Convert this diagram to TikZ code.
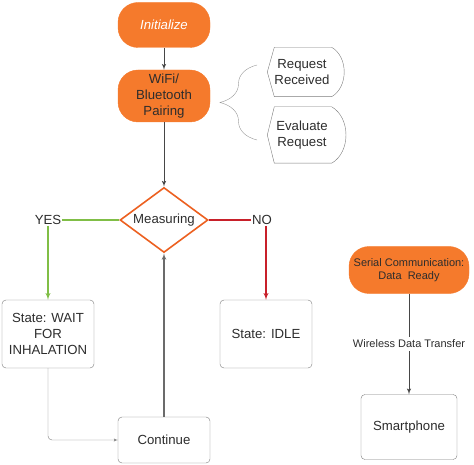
\documentclass[tikz,border=0pt]{standalone}
\usepackage{fontspec}
\setmainfont{Liberation Sans}
\usetikzlibrary{arrows,calc,shapes,decorations.pathreplacing}
\definecolor{pillorange}{RGB}{245,122,44}
\definecolor{diaorange}{RGB}{236,96,32}
\definecolor{yesgreen}{RGB}{128,190,70}
\definecolor{nored}{RGB}{200,32,42}
\definecolor{linegray}{RGB}{70,70,70}
\definecolor{boxgray}{RGB}{125,125,125}
\definecolor{txtgray}{RGB}{45,45,45}
\tikzset{
    pill/.style = {rectangle, rounded corners=20pt, fill=pillorange, draw=pillorange,
        minimum width=92pt, inner sep=2pt, align=center, text=txtgray},
    block/.style = {draw=boxgray, rectangle, rounded corners=4pt,
        minimum width=92pt, align=center, text=txtgray, fill=white},
    decision/.style = {diamond, draw=diaorange, line width=1.6pt, aspect=1.35,
        minimum width=88pt, minimum height=65pt, inner sep=0pt, text=txtgray},
    tag/.style = {text=txtgray, inner sep=1pt},
    dispbox/.style = {minimum width=69pt, align=center, text=txtgray},
    flow/.style = {draw=linegray, ->, line width=1pt},
    smalltext/.style = {font=\fontsize{11}{13}\selectfont}
}

\begin{document}
\begin{tikzpicture}[x=1pt, y=1pt, >=latex', node distance=71pt,
    every node/.style={font=\fontsize{13.2}{15.8}\selectfont}]
        \useasboundingbox (0,0) rectangle (474,-465);
        \node [pill, minimum height=45pt, text=white] (init) at (164,-25) {\itshape Initialize};
        \node [pill, minimum height=52pt, below of=init] (wifi) {WiFi/\\Bluetooth\\Pairing};
        \node [decision, below of=wifi, node distance=124pt] (meas) {Measuring};
        \node [tag, left of=meas, node distance=116pt] (yes) {YES};
        \node [tag, right of=meas, node distance=98pt] (no) {NO};
        \node [block, minimum height=68pt, below of=yes, node distance=114pt] (wait) {State: WAIT\\FOR\\INHALATION};
        \node [block, minimum height=68pt, right of=wait, node distance=218pt] (idle) {State: IDLE};
        \node [block, minimum height=46pt, below of=meas, node distance=220pt] (cont) {Continue};
        % request side notes
        \node [dispbox, minimum height=49pt] (req) at ($(wifi)+(138,24)$) {Request\\Received};
        \node [dispbox, minimum height=56pt, below of=req, node distance=63pt] (eval) {Evaluate\\Request};
        \foreach \d in {req,eval}{
            \draw [boxgray] ([xshift=7pt]\d.north west) -- (\d.west) -- ([xshift=7pt]\d.south west)
                -- ([xshift=-5pt]\d.south east) to[out=30,in=-30] ([xshift=-5pt]\d.north east) -- cycle;
            }
        \coordinate (bracetop) at (257,-65);
        \coordinate (bracebot) at (257,-140);
        \draw [boxgray!80, decorate, decoration={brace, amplitude=37pt}] (bracebot) -- (bracetop);
        % flow
        \draw [flow] (init) -- (wifi);
        \draw [flow] (wifi) -- (meas);
        \draw [yesgreen, line width=1.3pt] (meas.west) -- (yes.east);
        \draw [yesgreen, line width=1.3pt, ->] (yes.south) -- (wait.north);
        \draw [nored, line width=1.3pt] (meas.east) -- (no.west);
        \draw [nored, line width=1.3pt, ->] (no.south -| idle.north) -- (idle.north);
        \draw [flow, draw=linegray!80, line width=1.2pt] (cont) -- (meas);
        \draw [boxgray, thin, ->, rounded corners=4pt] (wait.south) |- (cont.west);
        % serial link
        \node [pill, smalltext, minimum width=120pt, minimum height=47pt, inner sep=0pt] (serial) at ($(meas)+(245,-50)$) {Serial Communication:\\Data\ \ Ready};
        \node [block, minimum width=96pt, minimum height=65pt, below of=serial, node distance=157pt] (phone) {Smartphone};
        \draw [flow] (serial) -- node [fill=white, smalltext, text=txtgray] (wdt) {Wireless Data Transfer} (phone);
\end{tikzpicture}
\end{document}
